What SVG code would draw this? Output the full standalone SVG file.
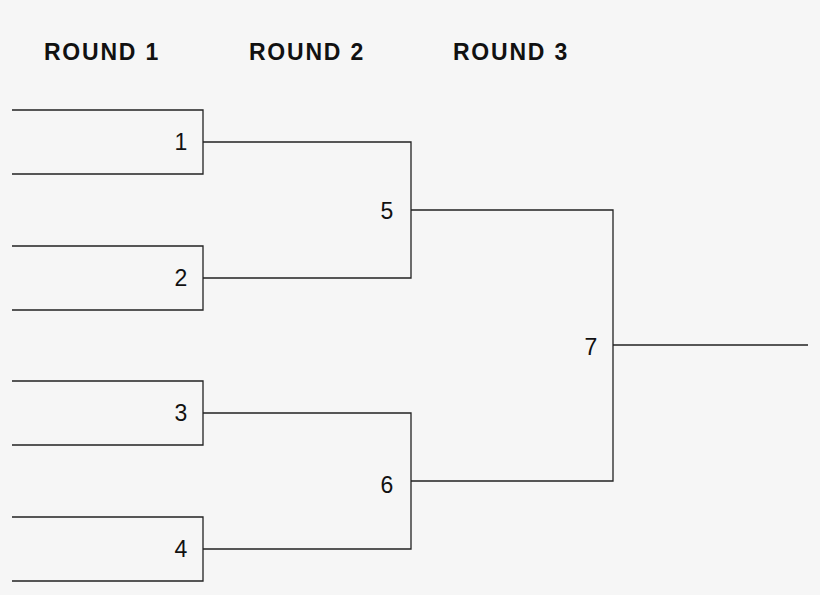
<svg xmlns="http://www.w3.org/2000/svg" width="820" height="595" viewBox="0 0 820 595">
<style>
.l{fill:none;stroke:#222;stroke-width:1.3}
.h{font-family:"Liberation Sans",Arial,sans-serif;font-size:23px;font-weight:600;fill:#111;text-anchor:middle;letter-spacing:1.8px}
.n{font-family:"Liberation Sans",Arial,sans-serif;font-size:23px;fill:#111;text-anchor:middle}
</style>
<rect width="820" height="595" fill="#f6f6f6"/>
<g id="headers">
<text class="h" x="102" y="60">ROUND 1</text>
<text class="h" x="307" y="60">ROUND 2</text>
<text class="h" x="511" y="60">ROUND 3</text>
</g>
<g id="connectors">
<path class="l" d="M12 110H203V174H12"/>
<path class="l" d="M12 246H203V310H12"/>
<path class="l" d="M12 381H203V445H12"/>
<path class="l" d="M12 517H203V581H12"/>
<path class="l" d="M203 142H411V278H203"/>
<path class="l" d="M203 413H411V549H203"/>
<path class="l" d="M411 210H613V481H411"/>
<path class="l" d="M613 345H808"/>
</g>
<g id="n1"><text class="n" x="181" y="150">1</text></g>
<g id="n2"><text class="n" x="181" y="286">2</text></g>
<g id="n3"><text class="n" x="181" y="421">3</text></g>
<g id="n4"><text class="n" x="181" y="557">4</text></g>
<g id="n5"><text class="n" x="387" y="219">5</text></g>
<g id="n6"><text class="n" x="387" y="493">6</text></g>
<g id="n7"><text class="n" x="591" y="355">7</text></g>
</svg>
